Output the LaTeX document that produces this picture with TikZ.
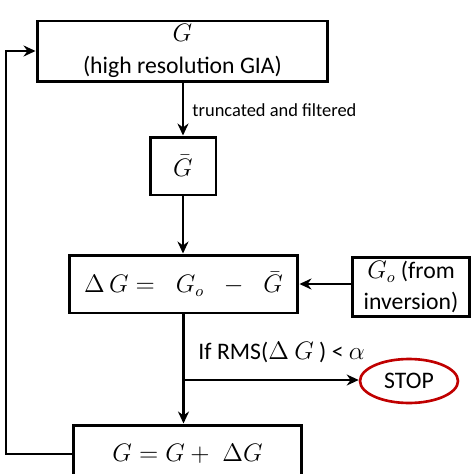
\documentclass[tikz,border=0pt]{standalone}
\usepackage{fontspec}
\setmainfont{Carlito}
\usetikzlibrary{arrows.meta, positioning, shapes.geometric}
\definecolor{cred}{HTML}{C00000}
\tikzset{
  every picture/.style={line width=1.7pt},
  box/.style={draw, align=center, inner sep=2pt, font=\fontsize{13.5}{18}\selectfont,
    minimum width=#1, minimum height=1.16cm},
  box/.default=1.32cm,
  arrow/.style={-{Stealth[length=2.4mm, width=2.2mm]}},
  note/.style={font=\fontsize{#1}{14}\selectfont, anchor=west, inner sep=0pt},
  note/.default=13.5,
}

\begin{document}
\begin{tikzpicture}[x=0.02cm, y=-0.02cm]
  \useasboundingbox (0,0) rectangle (474,474);
  % boxes
  \node[box=5.82cm] (gia) at (182.5,51) {$G$\\(high resolution GIA)};
  \node[box] (gbar) at (183,166) {$\bar{G}$};
  \node[box=4.58cm] (dg) at (183.5,284) {$\Delta\,G = \;\; G_o \;\;-\;\; \bar{G}$};
  \node[box=2.36cm] (gobs) at (411,287) {$G_o$ (from\\inversion)};
  \node[ellipse, draw=cred, line width=1.5pt, minimum width=1.96cm, minimum height=0.88cm,
    font=\fontsize{13.5}{15}\selectfont] (stop) at (409,381) {STOP};
  \node[box=4.58cm] (upd) at (187.5,454) {$G = G + \;\Delta G$};
  \coordinate (split) at (183.5,380);
  \coordinate (loop) at (6,454);
  % labels
  \node[note=10.5] (trunc) at (191,110) {truncated and filtered};
  \node[note] (rms) at (197,352) {If RMS($\Delta\ G$\ ) < $\alpha$};
  % connectors
  \draw[arrow] (gia.south -| gbar) -- (gbar.north);
  \draw[arrow] (gbar.south) -- (dg.north -| gbar);
  \draw[arrow] (gobs.west |- dg.east) -- (dg.east);
  \draw (dg.south) -- (split);
  \draw[arrow] (split) -- (split -| stop.west);
  \draw[arrow] (split) -- (split |- upd.north);
  \draw[arrow] (upd.west) -- (loop) |- (gia.west);
\end{tikzpicture}
\end{document}
